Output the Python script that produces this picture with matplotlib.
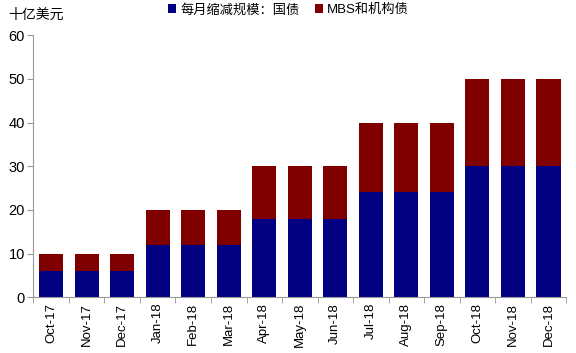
import numpy as np
import matplotlib
matplotlib.use("Agg")
import matplotlib.pyplot as plt

plt.rcParams['font.family'] = ['Liberation Sans', 'Noto Sans CJK SC', 'DejaVu Sans']

months = ['Oct-17', 'Nov-17', 'Dec-17', 'Jan-18', 'Feb-18', 'Mar-18',
          'Apr-18', 'May-18', 'Jun-18', 'Jul-18', 'Aug-18', 'Sep-18',
          'Oct-18', 'Nov-18', 'Dec-18']
treasury = [6, 6, 6, 12, 12, 12, 18, 18, 18, 24, 24, 24, 30, 30, 30]
mbs = [4, 4, 4, 8, 8, 8, 12, 12, 12, 16, 16, 16, 20, 20, 20]

fig = plt.figure(figsize=[5.76, 3.53], dpi=100)
ax = fig.add_axes([0.058, 0.158, 0.925, 0.742])

x = np.arange(len(months))
ax.bar(x, treasury, width=0.68, color='#000080', label='每月缩减规模：国债')
ax.bar(x, mbs, width=0.68, bottom=treasury, color='#800000', label='MBS和机构债')

ax.set_xlim(-0.5, len(months) - 0.5)
ax.set_ylim(0, 60)
ax.set_yticks(range(0, 61, 10))
ax.set_xticks(x)
ax.set_xticklabels(months, rotation=90, fontsize=9.5)
ax.tick_params(axis='x', length=0, pad=4)
ax.set_xticks(np.arange(-0.5, len(months)), minor=True)
ax.tick_params(axis='x', which='minor', length=4, color='#999999')
ax.tick_params(axis='y', labelsize=10.5, length=4, color='#999999', pad=2)

for s in ['top', 'right']:
    ax.spines[s].set_visible(False)
for s in ['left', 'bottom']:
    ax.spines[s].set_color('#999999')

fig.text(0.015, 0.958, '十亿美元', fontsize=10, family=['Noto Sans CJK SC'], va='center')
fig.legend(loc='center left', bbox_to_anchor=(0.283, 0.972), ncol=2, frameon=False,
           handlelength=0.6, handleheight=0.6, handletextpad=0.3,
           columnspacing=1.2, borderaxespad=0.0,
           prop={'family': ['Liberation Sans', 'Noto Sans CJK SC'], 'size': 9.5})

fig.savefig('out.png', dpi=100)
